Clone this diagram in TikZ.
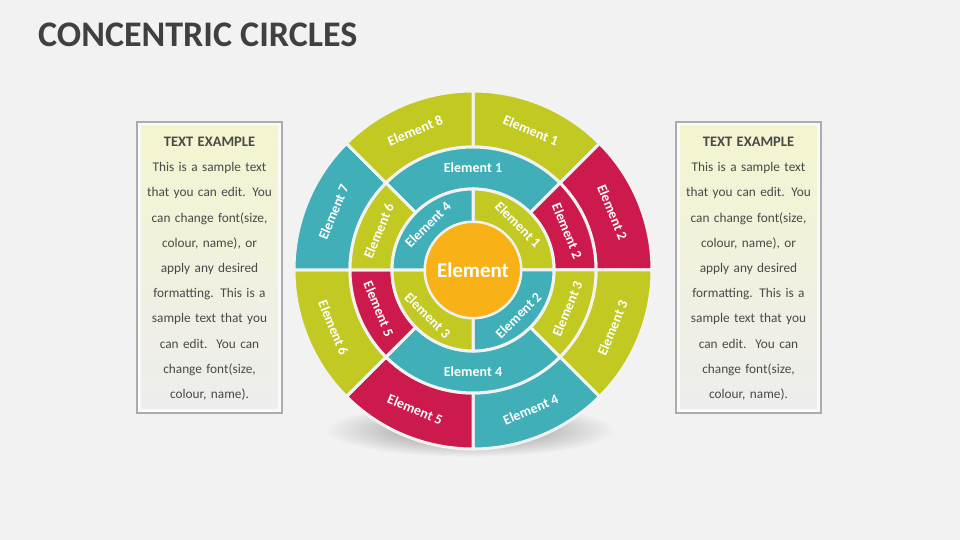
\documentclass[tikz,border=0pt]{standalone}
\usepackage{fontspec}
\setmainfont{Carlito}
\usetikzlibrary{calc}
\definecolor{bg}{HTML}{F2F2F2}
\definecolor{cg}{HTML}{C1C922}
\definecolor{ct}{HTML}{40AFB8}
\definecolor{cr}{HTML}{CC1A4D}
\definecolor{co}{HTML}{F8B117}
\definecolor{ttl}{HTML}{404040}
\definecolor{boxtop}{HTML}{F4F5CF}
\definecolor{boxbot}{HTML}{EDEDED}
\tikzset{
  segfill/.style={draw=bg, line width=3pt},
  lbl/.style={text=white, font=\bfseries\fontsize{14}{14}\selectfont, inner sep=0pt},
  boxtxt/.style={align=center, text width=140pt, text=ttl!95, font=\fontsize{13.3}{25.2}\selectfont, inner sep=0pt, anchor=north},
  boxframe/.style={draw=gray!65, line width=1.3pt, fill=white!60!bg}
}
\newcommand{\seg}[6]{% r1 r2 a1 a2 color name
  \path[segfill, fill=#5] (#3:#2) arc[start angle=#3, end angle=#4, radius=#2] -- (#4:#1) arc[start angle=#4, end angle=#3, radius=#1] -- cycle;
  \coordinate (#6) at ({(#3+#4)/2}:{(#1+#2)/2});
}
\newcommand{\seglbl}[4]{% r angle text name
  \pgfmathsetmacro{\rot}{ifthenelse(sin(#2)>=-0.01,#2-90,#2+90)}
  \node[lbl, rotate=\rot] (#4) at (#2:#1) {#3};
}
\begin{document}
\begin{tikzpicture}[x=1pt,y=1pt]
\useasboundingbox (0,0) rectangle (960,540);
\fill[bg] (0,0) rectangle (960,540);
\node[anchor=west, text=ttl, font=\bfseries\fontsize{36}{36}\selectfont, inner sep=0pt] (title) at (38,505) {CONCENTRIC CIRCLES};
% shadow
\shade[inner color=gray!95, outer color=bg] (470,110) ellipse[x radius=145, y radius=27];
\begin{scope}[shift={(473,270)}]
% outer ring
\seg{123}{179}{45}{90}{cg}{o1}
\seg{123}{179}{0}{45}{cr}{o2}
\seg{123}{179}{-45}{0}{cg}{o3}
\seg{123}{179}{-90}{-45}{ct}{o4}
\seg{123}{179}{-135}{-90}{cr}{o5}
\seg{123}{179}{180}{225}{cg}{o6}
\seg{123}{179}{135}{180}{ct}{o7}
\seg{123}{179}{90}{135}{cg}{o8}
% middle ring
\seg{81}{123}{45}{135}{ct}{m1}
\seg{81}{123}{0}{45}{cr}{m2}
\seg{81}{123}{-45}{0}{cg}{m3}
\seg{81}{123}{-135}{-45}{ct}{m4}
\seg{81}{123}{180}{225}{cr}{m5}
\seg{81}{123}{135}{180}{cg}{m6}
% inner ring
\seg{48}{81}{0}{90}{cg}{i1}
\seg{48}{81}{-90}{0}{ct}{i2}
\seg{48}{81}{180}{270}{cg}{i3}
\seg{48}{81}{90}{180}{ct}{i4}
\node[circle, fill=co, draw=bg, line width=2pt, minimum size=96pt, text=white, font=\bfseries\fontsize{21}{21}\selectfont] (center) at (0,0) {Element};
\seglbl{151}{67.5}{Element 1}{lo1}
\seglbl{151}{22.5}{Element 2}{lo2}
\seglbl{151}{-22.5}{Element 3}{lo3}
\seglbl{151}{-67.5}{Element 4}{lo4}
\seglbl{151}{-112.5}{Element 5}{lo5}
\seglbl{151}{202.5}{Element 6}{lo6}
\seglbl{151}{157.5}{Element 7}{lo7}
\seglbl{151}{112.5}{Element 8}{lo8}
\seglbl{102}{90}{Element 1}{lm1}
\seglbl{102}{22.5}{Element 2}{lm2}
\seglbl{102}{-22.5}{Element 3}{lm3}
\seglbl{102}{-90}{Element 4}{lm4}
\seglbl{102}{202.5}{Element 5}{lm5}
\seglbl{102}{157.5}{Element 6}{lm6}
\seglbl{64}{45}{Element 1}{li1}
\seglbl{64}{-45}{Element 2}{li2}
\seglbl{64}{225}{Element 3}{li3}
\seglbl{64}{135}{Element 4}{li4}
\end{scope}
% text boxes
\foreach \bx/\nm in {137/L,676/R}{
  \path[boxframe] (\bx,418) rectangle ++(145,-291);
  \shade[top color=boxtop, bottom color=boxbot] (\bx+4,414) rectangle ++(137,-283);
  \node[boxtxt] (box\nm) at (\bx+72.5,403) {{\bfseries\fontsize{14.5}{25.2}\selectfont TEXT EXAMPLE}\\This is a sample text\\that you can edit. You\\can change font(size,\\colour, name), or\\apply any desired\\formatting. This is a\\sample text that you\\can edit.\ \ You can\\change font(size,\\colour, name).};
}
\end{tikzpicture}
\end{document}
